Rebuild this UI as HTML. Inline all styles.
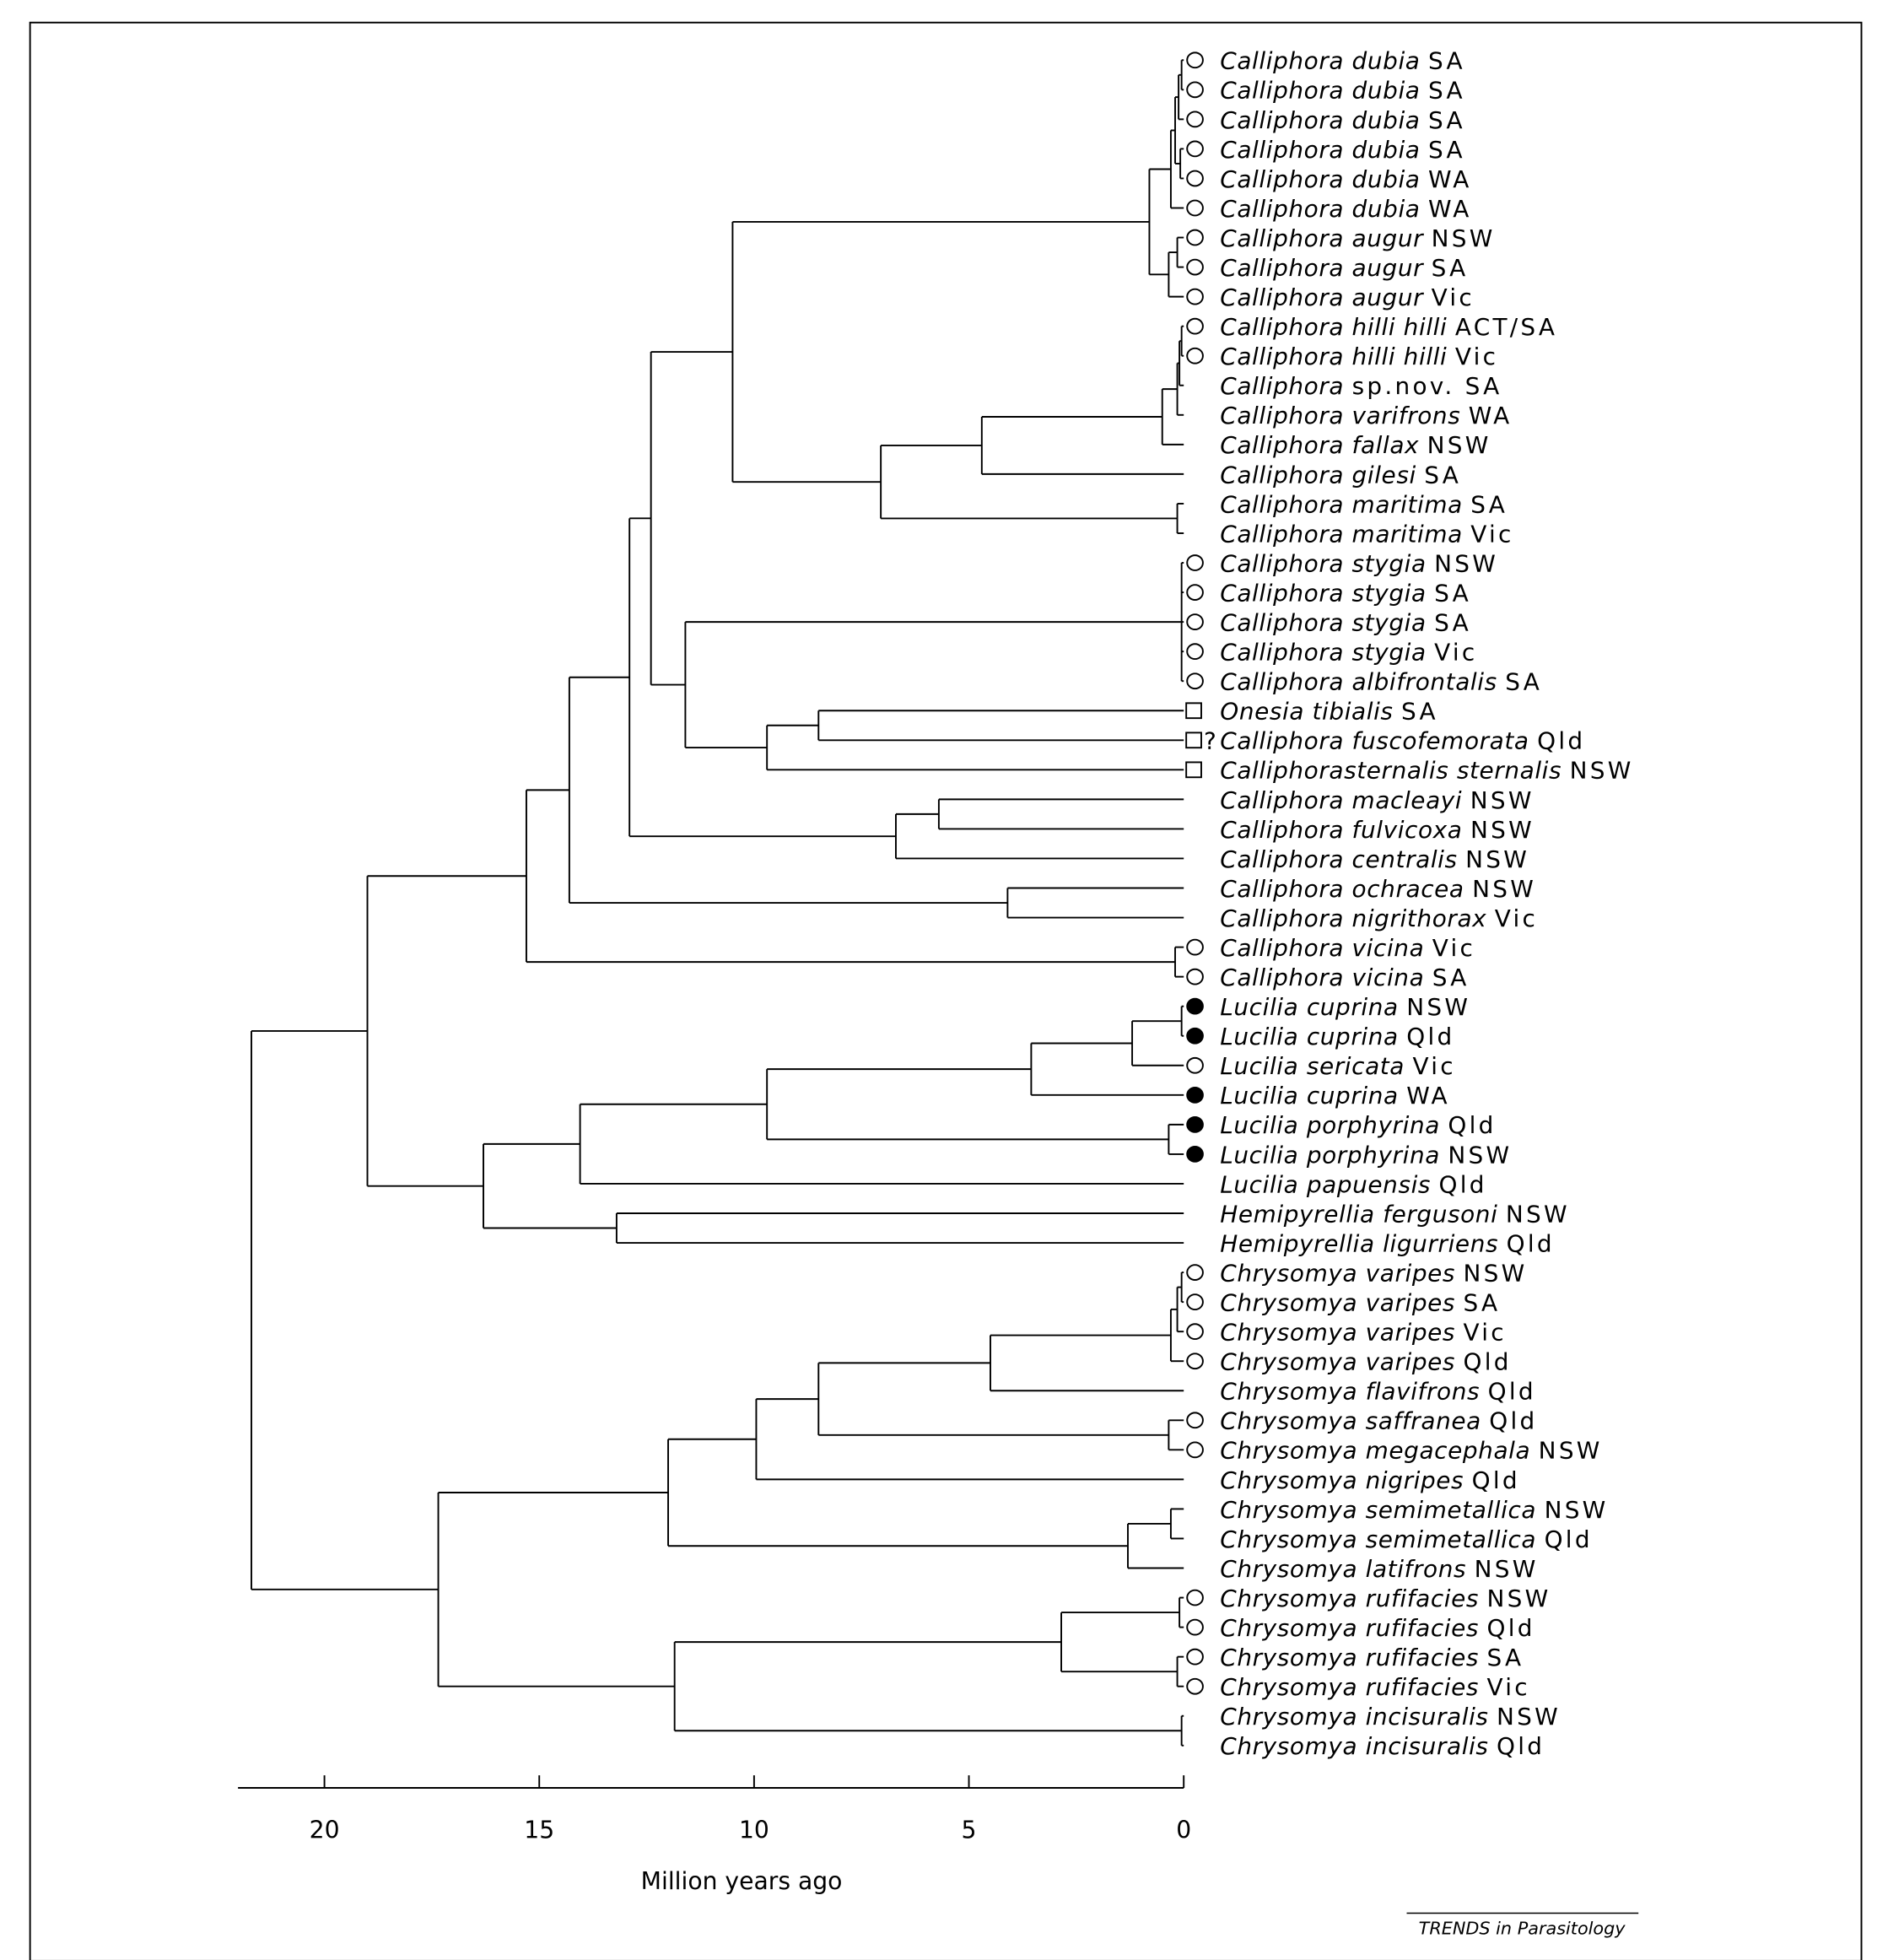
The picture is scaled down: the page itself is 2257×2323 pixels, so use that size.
<!DOCTYPE html>
<html><head><meta charset="utf-8">
<style>
html,body{margin:0;padding:0;background:#fff;}
svg{display:block;}
text{font-family:"DejaVu Sans","Liberation Sans",sans-serif;fill:#000;}
</style></head>
<body>
<svg id="chart" width="2257" height="2323" viewBox="0 0 1520 1564.4" preserveAspectRatio="none" xmlns="http://www.w3.org/2000/svg">
<rect x="24" y="18" width="1462" height="1547" fill="none" stroke="#000" stroke-width="1.3"/>
<g id="tree"></g>
<g id="leaves"></g>
<g id="axis"></g>
<text x="592" y="1508" font-size="19" text-anchor="middle">Million years ago</text>
<line x1="1123" y1="1527" x2="1308" y2="1527" stroke="#000" stroke-width="1"/>
<text x="1215" y="1544" font-size="14" font-style="italic" text-anchor="middle">TRENDS in Parasitology</text>
</svg>
<script>
// ---- data ----
const names = [
["Calliphora","dubia","SA"],["Calliphora","dubia","SA"],["Calliphora","dubia","SA"],["Calliphora","dubia","SA"],["Calliphora","dubia","WA"],["Calliphora","dubia","WA"],
["Calliphora","augur","NSW"],["Calliphora","augur","SA"],["Calliphora","augur","Vic"],
["Calliphora","hilli hilli","ACT/SA"],["Calliphora","hilli hilli","Vic"],["Calliphora","","sp.nov. SA"],["Calliphora","varifrons","WA"],["Calliphora","fallax","NSW"],["Calliphora","gilesi","SA"],
["Calliphora","maritima","SA"],["Calliphora","maritima","Vic"],
["Calliphora","stygia","NSW"],["Calliphora","stygia","SA"],["Calliphora","stygia","SA"],["Calliphora","stygia","Vic"],["Calliphora","albifrontalis","SA"],
["Onesia","tibialis","SA"],["Calliphora","fuscofemorata","Qld"],["Calliphorasternalis","sternalis","NSW"],
["Calliphora","macleayi","NSW"],["Calliphora","fulvicoxa","NSW"],["Calliphora","centralis","NSW"],["Calliphora","ochracea","NSW"],["Calliphora","nigrithorax","Vic"],
["Calliphora","vicina","Vic"],["Calliphora","vicina","SA"],
["Lucilia","cuprina","NSW"],["Lucilia","cuprina","Qld"],["Lucilia","sericata","Vic"],["Lucilia","cuprina","WA"],["Lucilia","porphyrina","Qld"],["Lucilia","porphyrina","NSW"],["Lucilia","papuensis","Qld"],
["Hemipyrellia","fergusoni","NSW"],["Hemipyrellia","ligurriens","Qld"],
["Chrysomya","varipes","NSW"],["Chrysomya","varipes","SA"],["Chrysomya","varipes","Vic"],["Chrysomya","varipes","Qld"],["Chrysomya","flavifrons","Qld"],
["Chrysomya","saffranea","Qld"],["Chrysomya","megacephala","NSW"],["Chrysomya","nigripes","Qld"],
["Chrysomya","semimetallica","NSW"],["Chrysomya","semimetallica","Qld"],["Chrysomya","latifrons","NSW"],
["Chrysomya","rufifacies","NSW"],["Chrysomya","rufifacies","Qld"],["Chrysomya","rufifacies","SA"],["Chrysomya","rufifacies","Vic"],
["Chrysomya","incisuralis","NSW"],["Chrysomya","incisuralis","Qld"]];
const leafMarkers = ["o","o","o","o","o","o","o","o","o","o","o","","","","","","","o","o","o","o","o","s","s","s","","","","","","o","o","f","f","o","f","f","f","","","","o","o","o","o","","o","o","","","","","o","o","o","o","",""];
// tree: node = [age, children...]; leaves are indices
const tree = [21.7,
  [19.0,
    [15.3,
      [14.3,
        [12.9,
          [12.4,
            [10.5,
              [0.8,
                [0.3,[0.2,[0.12,[0.05,0,1],2],[0.08,3,4]],5],
                [0.35,[0.15,6,7],8]],
              [7.05,
                [4.7,[0.5,[0.15,[0.1,[0.05,9,10],11],12],13],14],
                [0.15,15,16]]],
            [11.6,
              [0.05,17,18,19,20,21],
              [9.7,[8.5,22,23],24]]],
          [6.7,[5.7,25,26],27]],
        [4.1,28,29]],
      [0.2,30,31]],
    [16.3,
      [14.05,
        [9.7,
          [3.55,[1.2,[0.05,32,33],34],35],
          [0.35,36,37]],
        38],
      [13.2,39,40]]],
  [17.35,
    [12.0,
      [9.95,
        [8.5,
          [4.5,[0.3,[0.15,[0.05,41,42],43],44],45],
          [0.35,46,47]],
        48],
      [1.3,[0.3,49,50],51]],
    [11.85,
      [2.85,[0.1,52,53],[0.15,54,55]],
      [0.05,56,57]]]];
const ticks = [20,15,10,5,0];
// ---- scales ----
const X0 = 945, PX = 34.3;
const xScale = a => X0 - a*PX;
const yLeaf = i => 48 + i*23.6;
const NS = "http://www.w3.org/2000/svg";
const gT = document.getElementById('tree'), gL = document.getElementById('leaves'), gA = document.getElementById('axis');
function ln(g,x1,y1,x2,y2,name,w){
  const l=document.createElementNS(NS,'line');
  l.setAttribute('x1',x1);l.setAttribute('y1',y1);l.setAttribute('x2',x2);l.setAttribute('y2',y2);
  l.setAttribute('stroke','#000');l.setAttribute('stroke-width',w||1.3);
  
  
  g.appendChild(l);return l;
}
function draw(node){
  if(typeof node==='number') return {y:yLeaf(node)};
  const a=node[0], x=xScale(a);
  const ys=[];
  for(let k=1;k<node.length;k++){
    const c=node[k]; const r=draw(c);
    const cx = typeof c==='number'? X0 : xScale(c[0]);
    ln(gT,x,r.y,cx,r.y,'branch');
    ys.push(r.y);
  }
  const y1=Math.min(...ys), y2=Math.max(...ys);
  ln(gT,x,y1,x,y2,'node-connector');
  return {y:(y1+y2)/2};
}
draw(tree);
names.forEach((n,i)=>{
  const y=yLeaf(i), m=leafMarkers[i];
  if(m==='o'||m==='f'){
    const c=document.createElementNS(NS,'ellipse');
    c.setAttribute('cx',954);c.setAttribute('cy',y);c.setAttribute('rx',6.3);c.setAttribute('ry',6);
    c.setAttribute('fill',m==='f'?'#000':'#fff');c.setAttribute('stroke','#000');c.setAttribute('stroke-width',1.3);
    
    
    gL.appendChild(c);
  } else if(m==='s'){
    const r=document.createElementNS(NS,'rect');
    r.setAttribute('x',947);r.setAttribute('y',y-6);r.setAttribute('width',12);r.setAttribute('height',12);
    r.setAttribute('fill','#fff');r.setAttribute('stroke','#000');r.setAttribute('stroke-width',1.3);
    
    
    gL.appendChild(r);
  }
  const t=document.createElementNS(NS,'text');
  t.setAttribute('x',974);t.setAttribute('y',y+7);t.setAttribute('font-size',18.8);
  
  
  const it=document.createElementNS(NS,'tspan');it.setAttribute('font-style','italic');it.setAttribute('letter-spacing','0.4');
  it.textContent = n[1] ? n[0]+' '+n[1]+' ' : n[0]+' ';
  const rg=document.createElementNS(NS,'tspan');rg.setAttribute('letter-spacing','2.2');rg.textContent=n[2];
  t.appendChild(it);t.appendChild(rg);gL.appendChild(t);
  if(i===23){
    const q=document.createElementNS(NS,'text');q.setAttribute('x',961);q.setAttribute('y',y+7);q.setAttribute('font-size',18.8);q.textContent='?';
    
    
    gL.appendChild(q);
  }
});
ln(gA,190,1427,X0,1427,'x-axis-line');
ticks.forEach(v=>{
  const x=xScale(v);
  ln(gA,x,1427,x,1417,'x-tick');
  const t=document.createElementNS(NS,'text');
  t.setAttribute('x',x);t.setAttribute('y',1467);t.setAttribute('font-size',19);t.setAttribute('text-anchor','middle');
  t.textContent=v;
  
  
  gA.appendChild(t);
});
</script>
</body></html>
